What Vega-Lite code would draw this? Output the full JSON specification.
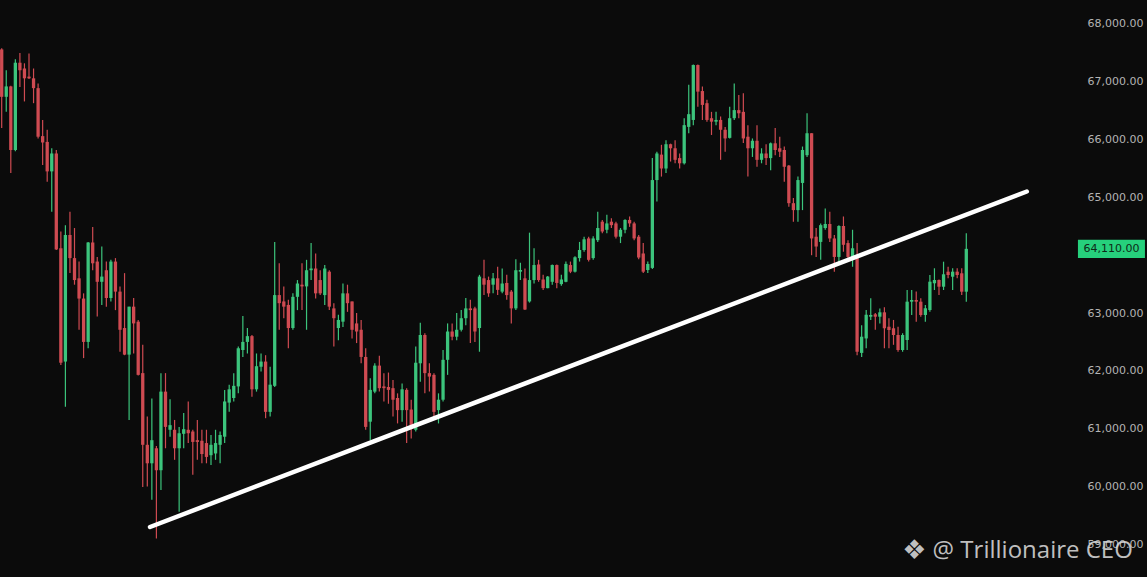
{
  "$schema": "https://vega.github.io/schema/vega-lite/v6.json",
  "width": 1080,
  "height": 577,
  "autosize": {"type": "none"},
  "padding": {"left": 0, "right": 67, "top": 0, "bottom": 0},
  "background": "#0b0b0b",
  "config": {
    "view": {"stroke": null},
    "axisY": {"labelFont": "DejaVu Sans", "labelFontSize": 11, "labelColor": "#b4b4b4", "domain": false, "ticks": false, "grid": false, "labelPadding": 7, "labelAlign": "left"}
  },
  "datasets": {
    "candles": [
      {"i":0,"o":67560,"h":67580,"l":66200,"c":66740},{"i":1,"o":66740,"h":67200,"l":66480,"c":66920},{"i":2,"o":66920,"h":66930,"l":65420,"c":65820},{"i":3,"o":65820,"h":67390,"l":65800,"c":67330},{"i":4,"o":67330,"h":67500,"l":66910,"c":67200},{"i":5,"o":67230,"h":67320,"l":66660,"c":67060},{"i":6,"o":67090,"h":67490,"l":67050,"c":67060},{"i":7,"o":67060,"h":67230,"l":66630,"c":66890},{"i":8,"o":66890,"h":66970,"l":66020,"c":66050},{"i":9,"o":66060,"h":66340,"l":65560,"c":65950},
      {"i":10,"o":65960,"h":66170,"l":65270,"c":65450},{"i":11,"o":65450,"h":65850,"l":64750,"c":65760},{"i":12,"o":65760,"h":65820,"l":64090,"c":64100},{"i":13,"o":64120,"h":64410,"l":62100,"c":62140},{"i":14,"o":62160,"h":64520,"l":61380,"c":64350},{"i":15,"o":64350,"h":64750,"l":63690,"c":63950},{"i":16,"o":63950,"h":64470,"l":63490,"c":63570},{"i":17,"o":63600,"h":63890,"l":62710,"c":63250},{"i":18,"o":63250,"h":63340,"l":62220,"c":62500},{"i":19,"o":62500,"h":64230,"l":62390,"c":64220},
      {"i":20,"o":64220,"h":64490,"l":63740,"c":63860},{"i":21,"o":63890,"h":63970,"l":62940,"c":63540},{"i":22,"o":63540,"h":64150,"l":63140,"c":63630},{"i":23,"o":63740,"h":63890,"l":63110,"c":63260},{"i":24,"o":63260,"h":63920,"l":63200,"c":63890},{"i":25,"o":63890,"h":63950,"l":63050,"c":63370},{"i":26,"o":63370,"h":63460,"l":62330,"c":62710},{"i":27,"o":62740,"h":63690,"l":62270,"c":62280},{"i":28,"o":62280,"h":63110,"l":61150,"c":63110},{"i":29,"o":63110,"h":63260,"l":62300,"c":62820},
      {"i":30,"o":62850,"h":62880,"l":61920,"c":61930},{"i":31,"o":61960,"h":62450,"l":59990,"c":60720},{"i":32,"o":60720,"h":61210,"l":60000,"c":60400},{"i":33,"o":60400,"h":61520,"l":59770,"c":60800},{"i":34,"o":60660,"h":60700,"l":59100,"c":60280},{"i":35,"o":60280,"h":61960,"l":59940,"c":61640},{"i":36,"o":61640,"h":61960,"l":60660,"c":61030},{"i":37,"o":60980,"h":61510,"l":60860,"c":61060},{"i":38,"o":60980,"h":61150,"l":60460,"c":60660},{"i":39,"o":60660,"h":61030,"l":59560,"c":60920},
      {"i":40,"o":60910,"h":61270,"l":60660,"c":60990},{"i":41,"o":60980,"h":61470,"l":60750,"c":60920},{"i":42,"o":60950,"h":60980,"l":60200,"c":60770},{"i":43,"o":60800,"h":61150,"l":60460,"c":60770},{"i":44,"o":60790,"h":60980,"l":60400,"c":60560},{"i":45,"o":60750,"h":60980,"l":60400,"c":60510},{"i":46,"o":60540,"h":60890,"l":60370,"c":60720},{"i":47,"o":60570,"h":60980,"l":60460,"c":60750},{"i":48,"o":60720,"h":60950,"l":60400,"c":60890},{"i":49,"o":60860,"h":61670,"l":60750,"c":61470},
      {"i":50,"o":61450,"h":61760,"l":61290,"c":61680},{"i":51,"o":61530,"h":61960,"l":61470,"c":61740},{"i":52,"o":61730,"h":62420,"l":61610,"c":62390},{"i":53,"o":62360,"h":62950,"l":62240,"c":62500},{"i":54,"o":62500,"h":62740,"l":62300,"c":62600},{"i":55,"o":62600,"h":62620,"l":61550,"c":61680},{"i":56,"o":61680,"h":62300,"l":61640,"c":62080},{"i":57,"o":62070,"h":62300,"l":61990,"c":62160},{"i":58,"o":62160,"h":62270,"l":61180,"c":61290},{"i":59,"o":61290,"h":62070,"l":61210,"c":61760},
      {"i":60,"o":61740,"h":64230,"l":61720,"c":63310},{"i":61,"o":63310,"h":63860,"l":62710,"c":63170},{"i":62,"o":63200,"h":63460,"l":62910,"c":63110},{"i":63,"o":63140,"h":63230,"l":62390,"c":62740},{"i":64,"o":62740,"h":63340,"l":62710,"c":63280},{"i":65,"o":63280,"h":63570,"l":63050,"c":63510},{"i":66,"o":63490,"h":63860,"l":63050,"c":63460},{"i":67,"o":63460,"h":63920,"l":62710,"c":63740},{"i":68,"o":63740,"h":64210,"l":63570,"c":63770},{"i":69,"o":63770,"h":64030,"l":63250,"c":63340},
      {"i":70,"o":63570,"h":63740,"l":63310,"c":63340},{"i":71,"o":63310,"h":63830,"l":63140,"c":63770},{"i":72,"o":63715,"h":63740,"l":63050,"c":63110},{"i":73,"o":63080,"h":63170,"l":62420,"c":62910},{"i":74,"o":62740,"h":62970,"l":62530,"c":62880},{"i":75,"o":62850,"h":63510,"l":62760,"c":63340},{"i":76,"o":63340,"h":63490,"l":63020,"c":63170},{"i":77,"o":63200,"h":63200,"l":62560,"c":62710},{"i":78,"o":62820,"h":63000,"l":62480,"c":62680},{"i":79,"o":62710,"h":62880,"l":62130,"c":62240},
      {"i":80,"o":62240,"h":62390,"l":60980,"c":61030},{"i":81,"o":61120,"h":61870,"l":60800,"c":61670},{"i":82,"o":61640,"h":62130,"l":61610,"c":62090},{"i":83,"o":62090,"h":62260,"l":61640,"c":61700},{"i":84,"o":61730,"h":61960,"l":61470,"c":61700},{"i":85,"o":61720,"h":61970,"l":61430,"c":61670},{"i":86,"o":61700,"h":61840,"l":61210,"c":61500},{"i":87,"o":61530,"h":61610,"l":61090,"c":61320},{"i":88,"o":61320,"h":61780,"l":61120,"c":61680},{"i":89,"o":61670,"h":61700,"l":60750,"c":61320},
      {"i":90,"o":61330,"h":61500,"l":60830,"c":61030},{"i":91,"o":60980,"h":62420,"l":60950,"c":62140},{"i":92,"o":62130,"h":62830,"l":61810,"c":62620},{"i":93,"o":62620,"h":62650,"l":61610,"c":61960},{"i":94,"o":61960,"h":62130,"l":61640,"c":61900},{"i":95,"o":61930,"h":61960,"l":61150,"c":61290},{"i":96,"o":61320,"h":61610,"l":61090,"c":61500},{"i":97,"o":61500,"h":62360,"l":61470,"c":62190},{"i":98,"o":62190,"h":62820,"l":61930,"c":62680},{"i":99,"o":62680,"h":62820,"l":62530,"c":62590},
      {"i":100,"o":62590,"h":63000,"l":62530,"c":62710},{"i":101,"o":62710,"h":63050,"l":62680,"c":62910},{"i":102,"o":62910,"h":63260,"l":62790,"c":63080},{"i":103,"o":63080,"h":63230,"l":62480,"c":63050},{"i":104,"o":63080,"h":63110,"l":62500,"c":62680},{"i":105,"o":62740,"h":63660,"l":62330,"c":63630},{"i":106,"o":63600,"h":63920,"l":63310,"c":63490},{"i":107,"o":63570,"h":63630,"l":63280,"c":63340},{"i":108,"o":63490,"h":63690,"l":63340,"c":63600},{"i":109,"o":63600,"h":63800,"l":63310,"c":63400},
      {"i":110,"o":63370,"h":63770,"l":63340,"c":63510},{"i":111,"o":63520,"h":63660,"l":63230,"c":63310},{"i":112,"o":63370,"h":63400,"l":62820,"c":63080},{"i":113,"o":63080,"h":63930,"l":63050,"c":63740},{"i":114,"o":63715,"h":63870,"l":63570,"c":63744},{"i":115,"o":63600,"h":63770,"l":63050,"c":63060},{"i":116,"o":63200,"h":64390,"l":63180,"c":63570},{"i":117,"o":63570,"h":64120,"l":63510,"c":63830},{"i":118,"o":63840,"h":63920,"l":63540,"c":63570},{"i":119,"o":63580,"h":63660,"l":63400,"c":63430},
      {"i":120,"o":63430,"h":63640,"l":63430,"c":63630},{"i":121,"o":63540,"h":63840,"l":63490,"c":63830},{"i":122,"o":63830,"h":63840,"l":63430,"c":63520},{"i":123,"o":63500,"h":63660,"l":63470,"c":63580},{"i":124,"o":63540,"h":63890,"l":63530,"c":63850},{"i":125,"o":63830,"h":63890,"l":63690,"c":63715},{"i":126,"o":63715,"h":63980,"l":63700,"c":63964},{"i":127,"o":63950,"h":64230,"l":63890,"c":64090},{"i":128,"o":64090,"h":64320,"l":64060,"c":64275},{"i":129,"o":64290,"h":64320,"l":63890,"c":63920},
      {"i":130,"o":63950,"h":64330,"l":63920,"c":64290},{"i":131,"o":64260,"h":64750,"l":64230,"c":64470},{"i":132,"o":64580,"h":64610,"l":64380,"c":64410},{"i":133,"o":64440,"h":64700,"l":64380,"c":64550},{"i":134,"o":64580,"h":64640,"l":64470,"c":64520},{"i":135,"o":64550,"h":64580,"l":64290,"c":64320},{"i":136,"o":64320,"h":64470,"l":64210,"c":64440},{"i":137,"o":64440,"h":64620,"l":64380,"c":64610},{"i":138,"o":64610,"h":64670,"l":64490,"c":64550},{"i":139,"o":64550,"h":64580,"l":64260,"c":64290},
      {"i":140,"o":64320,"h":64350,"l":63930,"c":63960},{"i":141,"o":64030,"h":64210,"l":63690,"c":63715},{"i":142,"o":63744,"h":63890,"l":63690,"c":63848},{"i":143,"o":63780,"h":65680,"l":63760,"c":65300},{"i":144,"o":65300,"h":65790,"l":64930,"c":65760},{"i":145,"o":65740,"h":65910,"l":65360,"c":65500},{"i":146,"o":65500,"h":65990,"l":65420,"c":65920},{"i":147,"o":65920,"h":65930,"l":65620,"c":65850},{"i":148,"o":65850,"h":65990,"l":65590,"c":65650},{"i":149,"o":65680,"h":65760,"l":65500,"c":65590},
      {"i":150,"o":65590,"h":66370,"l":65570,"c":66250},{"i":151,"o":66220,"h":66950,"l":66110,"c":66440},{"i":152,"o":66340,"h":67300,"l":66250,"c":67290},{"i":153,"o":67290,"h":67300,"l":66570,"c":66830},{"i":154,"o":66840,"h":66920,"l":66340,"c":66600},{"i":155,"o":66630,"h":66690,"l":66310,"c":66340},{"i":156,"o":66370,"h":66480,"l":66080,"c":66310},{"i":157,"o":66310,"h":66480,"l":66250,"c":66340},{"i":158,"o":66340,"h":66400,"l":65650,"c":66170},{"i":159,"o":66170,"h":66220,"l":65790,"c":66020},
      {"i":160,"o":66030,"h":66570,"l":66020,"c":66370},{"i":161,"o":66370,"h":66970,"l":66340,"c":66510},{"i":162,"o":66510,"h":66770,"l":66370,"c":66455},{"i":163,"o":66480,"h":66800,"l":65940,"c":66020},{"i":164,"o":66050,"h":66250,"l":65360,"c":65850},{"i":165,"o":65850,"h":66020,"l":65700,"c":65980},{"i":166,"o":65980,"h":66250,"l":65530,"c":65650},{"i":167,"o":65650,"h":65850,"l":65590,"c":65760},{"i":168,"o":65760,"h":65920,"l":65560,"c":65680},{"i":169,"o":65680,"h":65950,"l":65470,"c":65936},
      {"i":170,"o":65936,"h":66200,"l":65730,"c":65820},{"i":171,"o":65850,"h":66050,"l":65700,"c":65790},{"i":172,"o":65820,"h":65880,"l":65270,"c":65530},{"i":173,"o":65550,"h":65560,"l":64840,"c":64900},{"i":174,"o":64900,"h":64990,"l":64580,"c":64780},{"i":175,"o":64780,"h":65360,"l":64580,"c":65300},{"i":176,"o":65250,"h":65880,"l":64780,"c":65820},{"i":177,"o":65730,"h":66455,"l":65700,"c":66110},{"i":178,"o":66110,"h":66110,"l":64000,"c":64290},{"i":179,"o":64320,"h":64470,"l":63970,"c":64150},
      {"i":180,"o":64230,"h":64550,"l":63920,"c":64520},{"i":181,"o":64470,"h":64810,"l":64440,"c":64540},{"i":182,"o":64540,"h":64750,"l":64230,"c":64290},{"i":183,"o":64290,"h":64350,"l":63715,"c":63970},{"i":184,"o":63970,"h":64520,"l":63860,"c":64505},{"i":185,"o":64505,"h":64670,"l":64060,"c":64180},{"i":186,"o":64210,"h":64260,"l":63950,"c":63970},{"i":187,"o":63970,"h":64440,"l":63800,"c":64120},{"i":188,"o":64000,"h":64210,"l":62270,"c":62330},{"i":189,"o":62310,"h":62790,"l":62240,"c":62590},
      {"i":190,"o":62560,"h":63050,"l":62390,"c":62970},{"i":191,"o":62936,"h":63255,"l":62880,"c":62966},{"i":192,"o":62978,"h":63000,"l":62710,"c":62936},{"i":193,"o":62936,"h":63080,"l":62820,"c":63012},{"i":194,"o":63012,"h":63100,"l":62390,"c":62736},{"i":195,"o":62763,"h":62910,"l":62390,"c":62706},{"i":196,"o":62736,"h":62880,"l":62450,"c":62620},{"i":197,"o":62620,"h":62763,"l":62330,"c":62360},{"i":198,"o":62360,"h":62650,"l":62330,"c":62620},{"i":199,"o":62533,"h":63400,"l":62360,"c":63196},
      {"i":200,"o":63196,"h":63400,"l":62966,"c":63225},{"i":201,"o":63225,"h":63370,"l":62850,"c":63196},{"i":202,"o":63196,"h":63255,"l":62936,"c":62966},{"i":203,"o":62966,"h":63139,"l":62850,"c":63082},{"i":204,"o":63052,"h":63658,"l":63023,"c":63542},{"i":205,"o":63514,"h":63774,"l":63398,"c":63571},{"i":206,"o":63571,"h":63580,"l":63312,"c":63455},{"i":207,"o":63455,"h":63888,"l":63398,"c":63670},{"i":208,"o":63715,"h":63801,"l":63601,"c":63658},{"i":209,"o":63628,"h":63774,"l":63398,"c":63715},
      {"i":210,"o":63715,"h":63774,"l":63601,"c":63658},{"i":211,"o":63687,"h":63774,"l":63312,"c":63369},{"i":212,"o":63369,"h":64379,"l":63196,"c":64110}
    ],
    "trend": [{"i": 32.6, "p": 59298}, {"i": 225.3, "p": 65102}],
    "last": [{"i": 243.9, "p": 64110, "label": "64,110.00"}],
    "logo": [{"i": 200.6, "p": 58883, "label": "❖"}],
    "mark": [{"i": 248.6, "p": 58883, "label": "@ Trillionaire CEO"}]
  },
  "layer": [
    {
      "data": {"name": "candles"},
      "mark": {"type": "rule", "strokeWidth": 1.2},
      "encoding": {
        "x": {"field": "i", "type": "quantitative", "scale": {"domain": [-0.3736, 236.99], "nice": false, "zero": false}, "axis": null},
        "y": {"field": "l", "type": "quantitative", "scale": {"domain": [58433, 68415], "nice": false, "zero": false},
              "axis": {"title": null, "orient": "right", "format": ",.2f", "values": [59000, 60000, 61000, 62000, 63000, 65000, 66000, 67000, 68000]}},
        "y2": {"field": "h"},
        "color": {"condition": {"test": "datum.c >= datum.o", "value": "#3cc47c"}, "value": "#cf4b52"}
      }
    },
    {
      "data": {"name": "candles"},
      "mark": {"type": "rule", "strokeWidth": 3.3, "strokeCap": "butt"},
      "encoding": {
        "x": {"field": "i", "type": "quantitative"},
        "y": {"field": "o", "type": "quantitative", "title": null},
        "y2": {"field": "c"},
        "color": {"condition": {"test": "datum.c >= datum.o", "value": "#3cc47c"}, "value": "#cf4b52"}
      }
    },
    {
      "data": {"name": "trend"},
      "mark": {"type": "line", "color": "#ffffff", "strokeWidth": 4.5, "strokeCap": "round"},
      "encoding": {
        "x": {"field": "i", "type": "quantitative"},
        "y": {"field": "p", "type": "quantitative", "title": null}
      }
    },
    {
      "data": {"name": "last"},
      "mark": {"type": "point", "shape": "M-1,-0.27L1,-0.27L1,0.27L-1,0.27Z", "filled": true, "opacity": 1, "size": 4489, "color": "#26d07c"},
      "encoding": {
        "x": {"field": "i", "type": "quantitative"},
        "y": {"field": "p", "type": "quantitative", "title": null}
      }
    },
    {
      "data": {"name": "last"},
      "mark": {"type": "text", "font": "DejaVu Sans", "fontSize": 11, "color": "#0e2a18", "align": "center", "baseline": "middle"},
      "encoding": {
        "x": {"field": "i", "type": "quantitative"},
        "y": {"field": "p", "type": "quantitative", "title": null},
        "text": {"field": "label"}
      }
    },
    {
      "data": {"name": "logo"},
      "mark": {"type": "text", "font": "DejaVu Sans", "fontSize": 27, "color": "#d8d8d8", "opacity": 0.88, "align": "center", "baseline": "middle"},
      "encoding": {
        "x": {"field": "i", "type": "quantitative"},
        "y": {"field": "p", "type": "quantitative", "title": null},
        "text": {"field": "label"}
      }
    },
    {
      "data": {"name": "mark"},
      "mark": {"type": "text", "font": "Open Sans", "fontSize": 24, "color": "#d8d8d8", "opacity": 0.88, "align": "right", "baseline": "middle"},
      "encoding": {
        "x": {"field": "i", "type": "quantitative"},
        "y": {"field": "p", "type": "quantitative", "title": null},
        "text": {"field": "label"}
      }
    }
  ]
}
